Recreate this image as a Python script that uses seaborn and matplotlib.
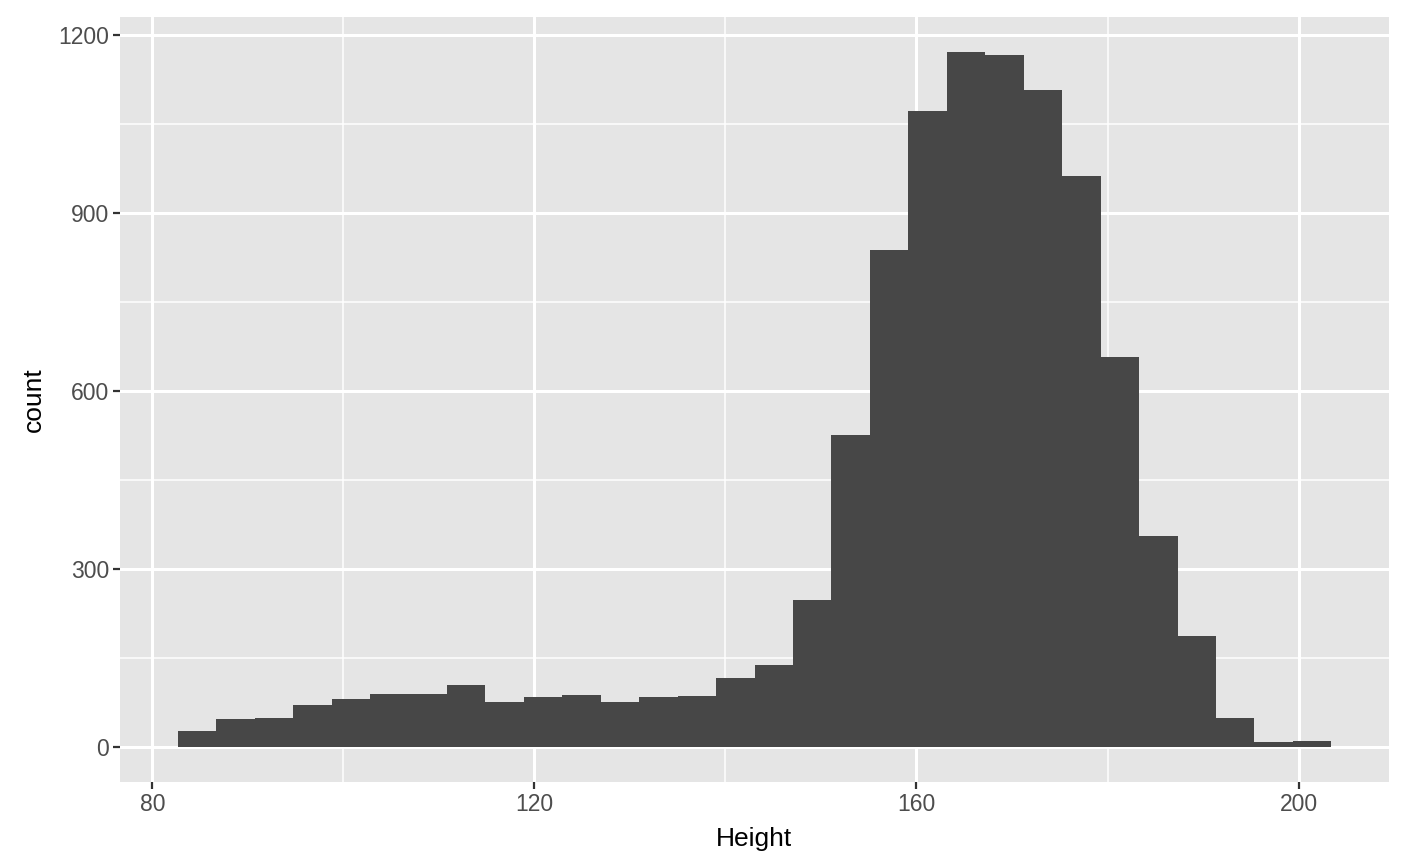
import numpy as np
import pandas as pd
import matplotlib
matplotlib.use("Agg")
import matplotlib.pyplot as plt
import seaborn as sns

# histogram bins (30 bins)
bin_start = 82.65
bin_width = 4.026
counts = [27, 47, 49, 71, 81, 90, 90, 105, 76, 85,
          88, 77, 84, 87, 116, 138, 248, 526, 838, 1073,
          1172, 1167, 1108, 963, 658, 356, 187, 49, 8, 10]

edges = bin_start + bin_width * np.arange(len(counts) + 1)
centers = (edges[:-1] + edges[1:]) / 2
data = pd.DataFrame({"Height": centers, "count": counts})

sns.set_theme(style="darkgrid", rc={
    "axes.facecolor": "#E5E5E5",
    "grid.color": "white",
    "axes.edgecolor": "none",
})
plt.rcParams["font.family"] = ["Liberation Sans", "DejaVu Sans"]

fig, ax = plt.subplots(figsize=(14.04, 8.66), dpi=100)
fig.subplots_adjust(left=120 / 1404, right=1389 / 1404, top=1 - 17 / 866, bottom=1 - 782 / 866)

sns.histplot(data=data, x="Height", weights="count", bins=edges.tolist(),
             color="#474747", alpha=1, edgecolor="none", linewidth=0, ax=ax)

span = edges[-1] - edges[0]
ax.set_xlim(edges[0] - 0.05 * span, edges[-1] + 0.05 * span)
ymax = max(counts)
ax.set_ylim(-0.05 * ymax, ymax * 1.05)

ax.set_xticks([80, 120, 160, 200])
ax.set_xticks([100, 140, 180], minor=True)
ax.set_yticks([0, 300, 600, 900, 1200])
ax.set_yticks([150, 450, 750, 1050], minor=True)
ax.grid(which="major", color="white", linewidth=2.2)
ax.grid(which="minor", color="white", linewidth=1.1)
ax.set_axisbelow(True)

ax.tick_params(which="major", length=5, width=1.6, color="#333333",
               labelsize=16.5, labelcolor="#4D4D4D", pad=3, left=True, bottom=True)
ax.tick_params(which="minor", length=0)
ax.set_xlabel("Height", fontsize=19, color="black", labelpad=8)
ax.set_ylabel("count", fontsize=19, color="black", labelpad=9)

fig.savefig("out.png", dpi=100)
